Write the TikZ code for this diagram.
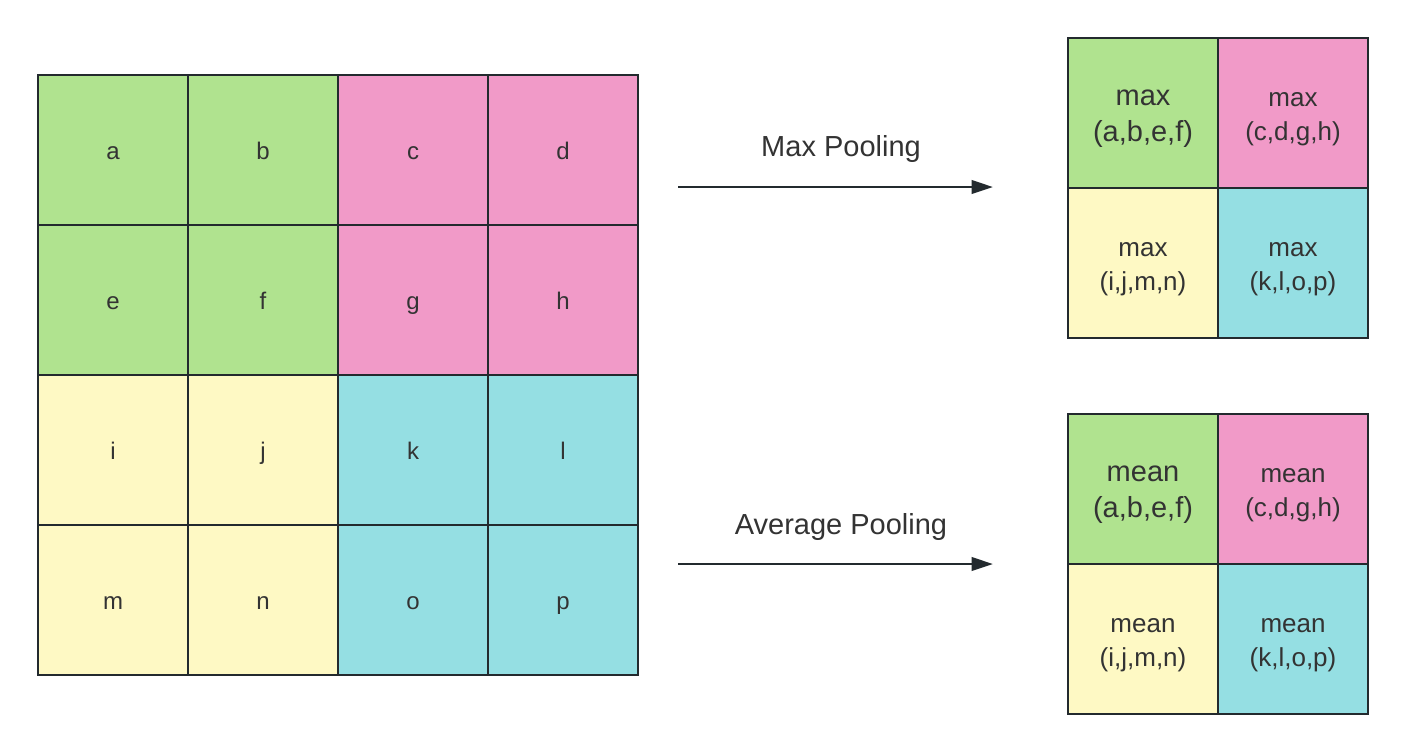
\documentclass[tikz,border=0pt]{standalone}
\usepackage{fontspec}
\setmainfont{Liberation Sans}
\usepackage{tikz}
\usetikzlibrary{arrows.meta,positioning}
\definecolor{cellgreen}{HTML}{B0E38F}
\definecolor{cellpink}{HTML}{F19AC8}
\definecolor{cellyellow}{HTML}{FEF9C4}
\definecolor{cellcyan}{HTML}{95DFE3}
\definecolor{edgedark}{HTML}{232A2E}
\definecolor{textdark}{HTML}{333333}
\newcommand{\poolstrut}{\rule{0pt}{20pt}}

\begin{document}
\begin{tikzpicture}[x=0.75pt, y=-0.75pt,
    cell/.style={draw=edgedark, line width=2pt, minimum size=112.5pt, inner sep=0pt,
                 text=textdark, font=\fontsize{18}{22}\selectfont,
                 text height=16pt, text depth=2.5pt},
    pool/.style={draw=edgedark, line width=2pt, minimum size=112.5pt, inner sep=0pt,
                 text=textdark, align=center, font=\fontsize{19.5}{25.5}\selectfont},
    bigpool/.style={pool, font=\fontsize{21.75}{27}\selectfont},
    flow/.style={draw=edgedark, line width=2pt, -{Triangle[length=16pt,width=10pt]}},
    lbl/.style={text=textdark, font=\fontsize{21.75}{26}\selectfont}]
    \useasboundingbox (0,0) rectangle (1405,751);

    % Input feature map
    \node[cell, fill=cellgreen] (a) at (113,150) {a};
    \node[cell, fill=cellgreen] (b) at (263,150) {b};
    \node[cell, fill=cellpink] (c) at (413,150) {c};
    \node[cell, fill=cellpink] (d) at (563,150) {d};
    \node[cell, fill=cellgreen] (e) at (113,300) {e};
    \node[cell, fill=cellgreen] (f) at (263,300) {f};
    \node[cell, fill=cellpink] (g) at (413,300) {g};
    \node[cell, fill=cellpink] (h) at (563,300) {h};
    \node[cell, fill=cellyellow] (i) at (113,450) {i};
    \node[cell, fill=cellyellow] (j) at (263,450) {j};
    \node[cell, fill=cellcyan] (k) at (413,450) {k};
    \node[cell, fill=cellcyan] (l) at (563,450) {l};
    \node[cell, fill=cellyellow] (m) at (113,600) {m};
    \node[cell, fill=cellyellow] (n) at (263,600) {n};
    \node[cell, fill=cellcyan] (o) at (413,600) {o};
    \node[cell, fill=cellcyan] (p) at (563,600) {p};

    % Max pooling output
    \node[bigpool, fill=cellgreen] (max1) at (1143,113) {\poolstrut max\\(a,b,e,f)};
    \node[pool, fill=cellpink] (max2) at (1293,113) {\poolstrut max\\(c,d,g,h)};
    \node[pool, fill=cellyellow] (max3) at (1143,263) {\poolstrut max\\(i,j,m,n)};
    \node[pool, fill=cellcyan] (max4) at (1293,263) {\poolstrut max\\(k,l,o,p)};

    % Average pooling output
    \node[bigpool, fill=cellgreen] (avg1) at (1143,489) {\poolstrut mean\\(a,b,e,f)};
    \node[pool, fill=cellpink] (avg2) at (1293,489) {\poolstrut mean\\(c,d,g,h)};
    \node[pool, fill=cellyellow] (avg3) at (1143,639) {\poolstrut mean\\(i,j,m,n)};
    \node[pool, fill=cellcyan] (avg4) at (1293,639) {\poolstrut mean\\(k,l,o,p)};

    % Arrows
    \coordinate (maxstart) at (678,187);
    \coordinate (maxend) at (993,187);
    \coordinate (avgstart) at (678,564);
    \coordinate (avgend) at (993,564);
    \draw[flow] (maxstart) -- (maxend);
    \draw[flow] (avgstart) -- (avgend);
    \node[lbl] (maxlbl) at (841,149) {Max Pooling};
    \node[lbl] (avglbl) at (841,527) {Average Pooling};
\end{tikzpicture}
\end{document}
